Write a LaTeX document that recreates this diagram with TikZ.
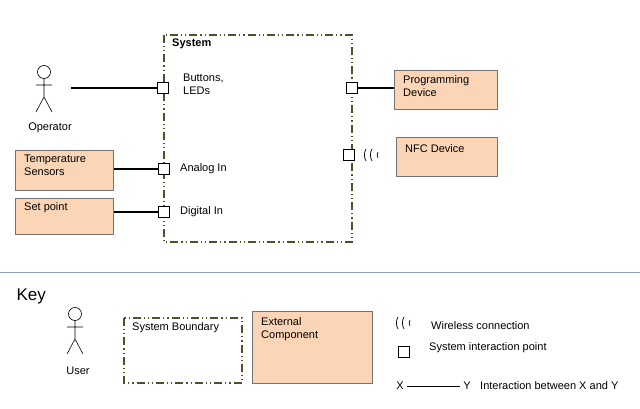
\documentclass[tikz,border=0pt]{standalone}
\usepackage{fontspec}
\setmainfont{Liberation Sans}
\usetikzlibrary{positioning}
\definecolor{peach}{HTML}{FBD5B5}
\definecolor{olivedash}{HTML}{4F5228}
\definecolor{rule}{HTML}{8EA0BE}
\tikzset{
  ext/.style={draw=gray!90!black, fill=peach, line width=0.8pt, anchor=north west, inner sep=0pt},
  port/.style={draw, fill=white, minimum size=11pt, inner sep=0pt, line width=0.7pt},
  boundary/.style={draw=olivedash, line width=1.1pt, dash pattern=on 8pt off 3pt on 1.2pt off 3pt on 1.2pt off 3pt},
  lbl/.style={inner sep=1pt, align=left, anchor=west},
  link/.style={line width=1.2pt},
}
\newcommand{\actor}[2]{% position, name
  \begin{scope}[shift={#1}, line width=0.6pt]
    \draw (0,0) circle (6.5pt);
    \draw (0,6.5) -- (0,25) (-8,13) -- (8,13) (0,25) -- (-8,40) (0,25) -- (8,40);
    \coordinate (#2) at (0,16);
  \end{scope}}
\newcommand{\wireless}[1]{% position
  \begin{scope}[shift={#1}, line width=0.7pt]
    \draw (0,6) arc (150:210:12);
    \draw (6,6) arc (150:210:12);
    \draw (12,3) arc (150:210:6);
  \end{scope}}
\begin{document}
\begin{tikzpicture}[x=1pt, y=-1pt, font=\fontsize{11}{13}\selectfont]
  \useasboundingbox (0,0) rectangle (640,409);

  % system boundary
  \draw[boundary] (164,35) rectangle (352,242);
  \node[lbl, anchor=north west, font=\fontsize{11}{13}\selectfont\bfseries] (sys) at (171,38) {System};

  % ports
  \node[port] (pbtn) at (163,88) {};
  \node[port] (pana) at (164,169) {};
  \node[port] (pdig) at (164,212) {};
  \node[port] (pprog) at (352,88) {};
  \node[port] (pnfc) at (349,155) {};
  \node[lbl, anchor=north west] at (182,73) {Buttons,\\LEDs};
  \node[lbl] at (179,169) {Analog In};
  \node[lbl] at (179,212) {Digital In};

  % externals
  \actor{(44,72)}{op}
  \node (opname) at (50,128) {Operator};
  \node[ext, minimum width=103pt, minimum height=39pt] (prog) at (394,70) {};
  \node[ext, minimum width=101pt, minimum height=39pt] (nfc) at (396,137) {};
  \node[ext, minimum width=98pt, minimum height=40pt] (temp) at (15,150) {};
  \node[ext, minimum width=98pt, minimum height=36pt] (setp) at (15,198) {};
  \node[lbl, anchor=north west] at ([shift={(8,4)}]prog.north west) {Programming\\Device};
  \node[lbl, anchor=north west] at ([shift={(8,6)}]nfc.north west) {NFC Device};
  \node[lbl, anchor=north west] at ([shift={(8,4)}]temp.north west) {Temperature\\Sensors};
  \node[lbl, anchor=north west] at ([shift={(8,3)}]setp.north west) {Set point};

  % interactions
  \coordinate (opend) at (71,88);
  \draw[link] (opend) -- (pbtn);
  \draw[link] (pprog) -- (prog.west |- pprog);
  \draw[link] (temp.east |- pana) -- (pana);
  \draw[link] (setp.east |- pdig) -- (pdig);
  \wireless{(366,155)}

  % key
  \draw[rule, line width=0.8pt] (0,272) -- (640,272);
  \node[anchor=west, font=\fontsize{17}{20}\selectfont] (key) at (13,296) {Key};
  \actor{(75,314)}{usr}
  \node (usrname) at (78,371) {User};
  \draw[boundary] (124,318) rectangle (242,383);
  \node[lbl, anchor=north west] (kbound) at (131,321) {System Boundary};
  \node[ext, minimum width=120pt, minimum height=72pt] (kext) at (252,311) {};
  \node[lbl, anchor=north west] at ([shift={(8,5)}]kext.north west) {External\\Component};
  \wireless{(398,323)}
  \node[lbl] (kwl) at (430,326) {Wireless connection};
  \node[port] (kport) at (404,352) {};
  \node[lbl] (kpt) at (428,348) {System interaction point};
  \node (kx) at (400,386) {X};
  \node (ky) at (467,386) {Y};
  \draw[line width=1pt] (kx.east) -- (ky.west);
  \node[lbl] (kint) at (479,386) {Interaction between X and Y};
\end{tikzpicture}
\end{document}
